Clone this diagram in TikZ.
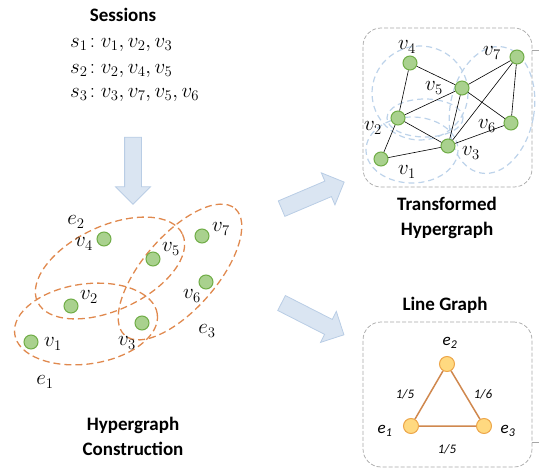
\RequirePackage{fix-cm}
\documentclass[tikz,border=0pt]{standalone}
\usepackage{fontspec}
\setmainfont{Carlito}
\usetikzlibrary{shapes.arrows}
\definecolor{vfill}{HTML}{A9D18E}
\definecolor{vborder}{HTML}{70AD47}
\definecolor{lfill}{HTML}{FFD980}
\definecolor{lborder}{HTML}{EDA64A}
\definecolor{ledge}{HTML}{D0884E}
\definecolor{hedgecol}{HTML}{E0894E}
\definecolor{tcol}{HTML}{BDD3EA}
\definecolor{arrowfill}{HTML}{DAE5F2}
\definecolor{arrowline}{HTML}{B9CDE5}

\begin{document}
\begin{tikzpicture}[x=1pt,y=-1pt,
  vtx/.style={circle,draw=vborder,fill=vfill,line width=1pt,minimum size=14pt,inner sep=0pt},
  lvtx/.style={circle,draw=lborder,fill=lfill,line width=1pt,minimum size=15pt,inner sep=0pt},
  hedge/.style={draw=hedgecol,line width=1.3pt,dash pattern=on 7pt off 4pt},
  tedge/.style={draw=tcol,line width=1.2pt,dash pattern=on 6pt off 4pt},
  frame/.style={draw=gray!70,line width=0.7pt,dash pattern=on 4pt off 2pt,rounded corners=18pt},
  bigarrow/.style={single arrow,draw=arrowline,fill=arrowfill,line width=0.8pt,inner sep=8pt,
    single arrow head extend=9pt,minimum width=0pt},
  title/.style={font=\fontsize{19}{25}\selectfont\bfseries,align=center},
  lab/.style={font=\fontsize{21}{23}\selectfont,inner sep=0pt},
  wlab/.style={font=\fontsize{13}{15}\selectfont\itshape,inner sep=0pt}]
  \useasboundingbox (0,0) rectangle (539,471);

  \node[title] (sessions) at (123,15) {Sessions};
  \node[lab,anchor=west] (s1) at (70,45) {$s_1\!: v_1, v_2, v_3$};
  \node[lab,anchor=west] (s2) at (70,71) {$s_2\!: v_2, v_4, v_5$};
  \node[lab,anchor=west] (s3) at (70,95) {$s_3\!: v_3, v_7, v_5, v_6$};

  \node[bigarrow,rotate=-90,minimum height=67pt] (down) at (133,166.5) {};
  \node[bigarrow,rotate=23,minimum height=68pt] (toupper) at (309,197) {};
  \node[bigarrow,rotate=-27,minimum height=70pt] (tolower) at (309,317) {};

  \draw[hedge,rotate around={8:(86,324)}] (86,324) ellipse [x radius=72, y radius=40];
  \draw[hedge,rotate around={25:(110,268)}] (110,268) ellipse [x radius=80, y radius=42];
  \draw[hedge,rotate around={49:(180,272)}] (180,272) ellipse [x radius=84, y radius=37];

  \node[vtx] (h1) at (31,342) {};
  \node[vtx] (h2) at (71,306) {};
  \node[vtx] (h3) at (142,323) {};
  \node[vtx] (h4) at (104,239) {};
  \node[vtx] (h5) at (153,259) {};
  \node[vtx] (h6) at (206,282) {};
  \node[vtx] (h7) at (202,236) {};
  \node[lab] (hl1) at (53,344) {$v_1$};
  \node[lab] (hl2) at (89,297) {$v_2$};
  \node[lab] (hl3) at (127,343) {$v_3$};
  \node[lab] (hl4) at (84,244) {$v_4$};
  \node[lab] (hl5) at (171,249) {$v_5$};
  \node[lab] (hl6) at (192,296) {$v_6$};
  \node[lab] (hl7) at (221,229) {$v_7$};
  \node[lab] (he1) at (45,382) {$e_1$};
  \node[lab] (he2) at (76,222) {$e_2$};
  \node[lab] (he3) at (207,331) {$e_3$};
  \node[title] (hyper) at (133,436) {Hypergraph\\Construction};

  \node[frame,minimum width=169pt,minimum height=159pt] (tbox) at (447.5,107.5) {};
  \coordinate (tstub) at (539,50);
  \draw[gray!70,line width=0.7pt] (tstub -| tbox.east) -- (tstub);
  \draw[tedge] (420,93) ellipse [x radius=48, y radius=47];
  \draw[tedge,rotate around={-10:(492,110)}] (492,110) ellipse [x radius=42, y radius=64];
  \draw[tedge] (412,150) ellipse [x radius=46, y radius=33];
  \draw[tedge] (425,118) ellipse [x radius=38, y radius=19];
  \node[vtx] (t1) at (381,159) {};
  \node[vtx] (t2) at (398,118) {};
  \node[vtx] (t3) at (448,146) {};
  \node[vtx] (t4) at (410,63) {};
  \node[vtx] (t5) at (462,88) {};
  \node[vtx] (t6) at (511,123) {};
  \node[vtx] (t7) at (517,57) {};
  \draw[line width=0.6pt] (t4) -- (t2) (t4) -- (t5) (t2) -- (t5) (t2) -- (t3)
    (t2) -- (t1) (t1) -- (t3) (t3) -- (t5) (t3) -- (t7) (t3) -- (t6)
    (t5) -- (t7) (t5) -- (t6) (t7) -- (t6);
  \node[lab] (tl1) at (407,172) {$v_1$};
  \node[lab] (tl2) at (373,128) {$v_2$};
  \node[lab] (tl3) at (471,153) {$v_3$};
  \node[lab] (tl4) at (407,47) {$v_4$};
  \node[lab] (tl5) at (434,88) {$v_5$};
  \node[lab] (tl6) at (487,126) {$v_6$};
  \node[lab] (tl7) at (492,53) {$v_7$};
  \node[title] (trans) at (447,218) {Transformed\\Hypergraph};

  \node[title] (line) at (445,305) {Line Graph};
  \node[frame,minimum width=169pt,minimum height=145pt] (lbox) at (447.5,394.5) {};
  \coordinate (lstub) at (539,442);
  \draw[gray!70,line width=0.7pt] (lstub -| lbox.east) -- (lstub);
  \node[lvtx] (l2) at (447,364) {};
  \node[lvtx] (l1) at (411,426) {};
  \node[lvtx] (l3) at (484,426) {};
  \draw[ledge,line width=1.5pt] (l2) -- (l1) (l1) -- (l3) (l3) -- (l2);
  \node[wlab,font=\fontsize{17}{19}\selectfont\itshape] (le2) at (450,343) {e\textsubscript{2}};
  \node[wlab,font=\fontsize{17}{19}\selectfont\itshape] (le1) at (385,431) {e\textsubscript{1}};
  \node[wlab,font=\fontsize{17}{19}\selectfont\itshape] (le3) at (508,431) {e\textsubscript{3}};
  \node[wlab] (w12) at (405,394) {1/5};
  \node[wlab] (w23) at (483,394) {1/6};
  \node[wlab] (w13) at (447,449) {1/5};
\end{tikzpicture}
\end{document}
